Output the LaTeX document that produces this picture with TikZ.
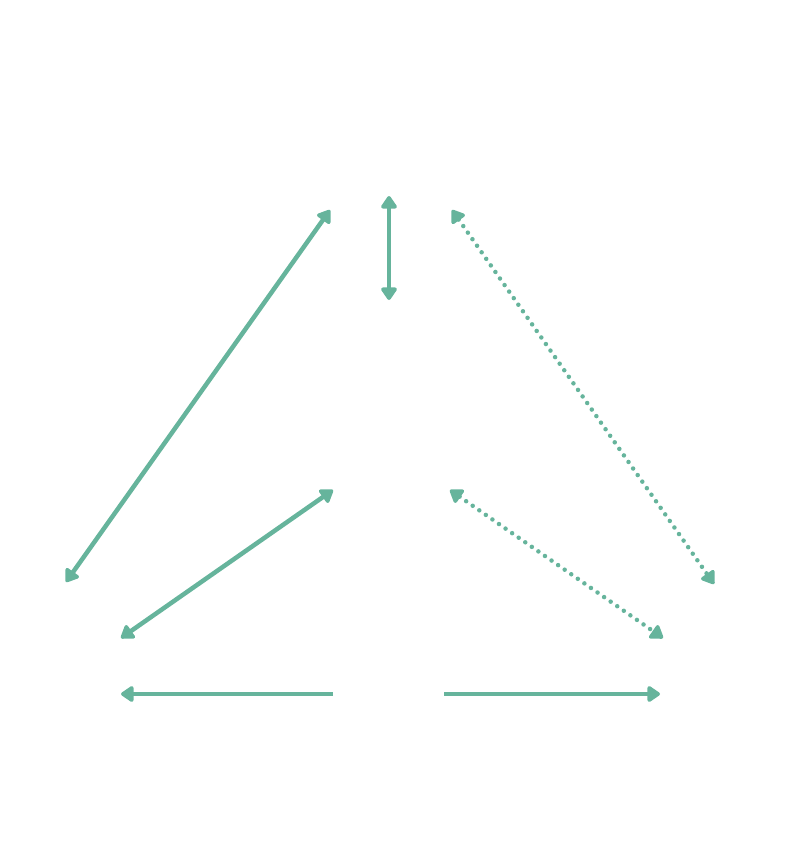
\documentclass[tikz,border=0pt]{standalone}
\usetikzlibrary{arrows.meta}
\definecolor{tealc}{HTML}{66B49C}
\begin{document}
\begin{tikzpicture}[x=1pt,y=-1pt,
  tip/.tip={Triangle[round,length=14pt,width=18pt]},
  conn/.style={draw=tealc,line width=4.5pt,line cap=round,{tip}-{tip}},
  oneway/.style={draw=tealc,line width=4.5pt,-{tip}},
  dots/.style={dash pattern=on 0pt off 8pt,line cap=round}]
\useasboundingbox (0,0) rectangle (800,865);
\coordinate (a1) at (330,210); \coordinate (a2) at (66,582);
\coordinate (b1) at (389,196); \coordinate (b2) at (389,300);
\coordinate (c1) at (452,210); \coordinate (c2) at (714,584);
\coordinate (d1) at (333,490); \coordinate (d2) at (121,638);
\coordinate (e1) at (450,490); \coordinate (e2) at (663,638);
\coordinate (f1) at (333,694); \coordinate (f2) at (121,694);
\coordinate (g1) at (444,694); \coordinate (g2) at (660,694);
\draw[conn] (a1) -- (a2);
\draw[conn] (b1) -- (b2);
\draw[conn,dots] (c1) -- (c2);
\draw[conn] (d1) -- (d2);
\draw[conn,dots] (e1) -- (e2);
\draw[oneway] (f1) -- (f2);
\draw[oneway] (g1) -- (g2);
\end{tikzpicture}
\end{document}
